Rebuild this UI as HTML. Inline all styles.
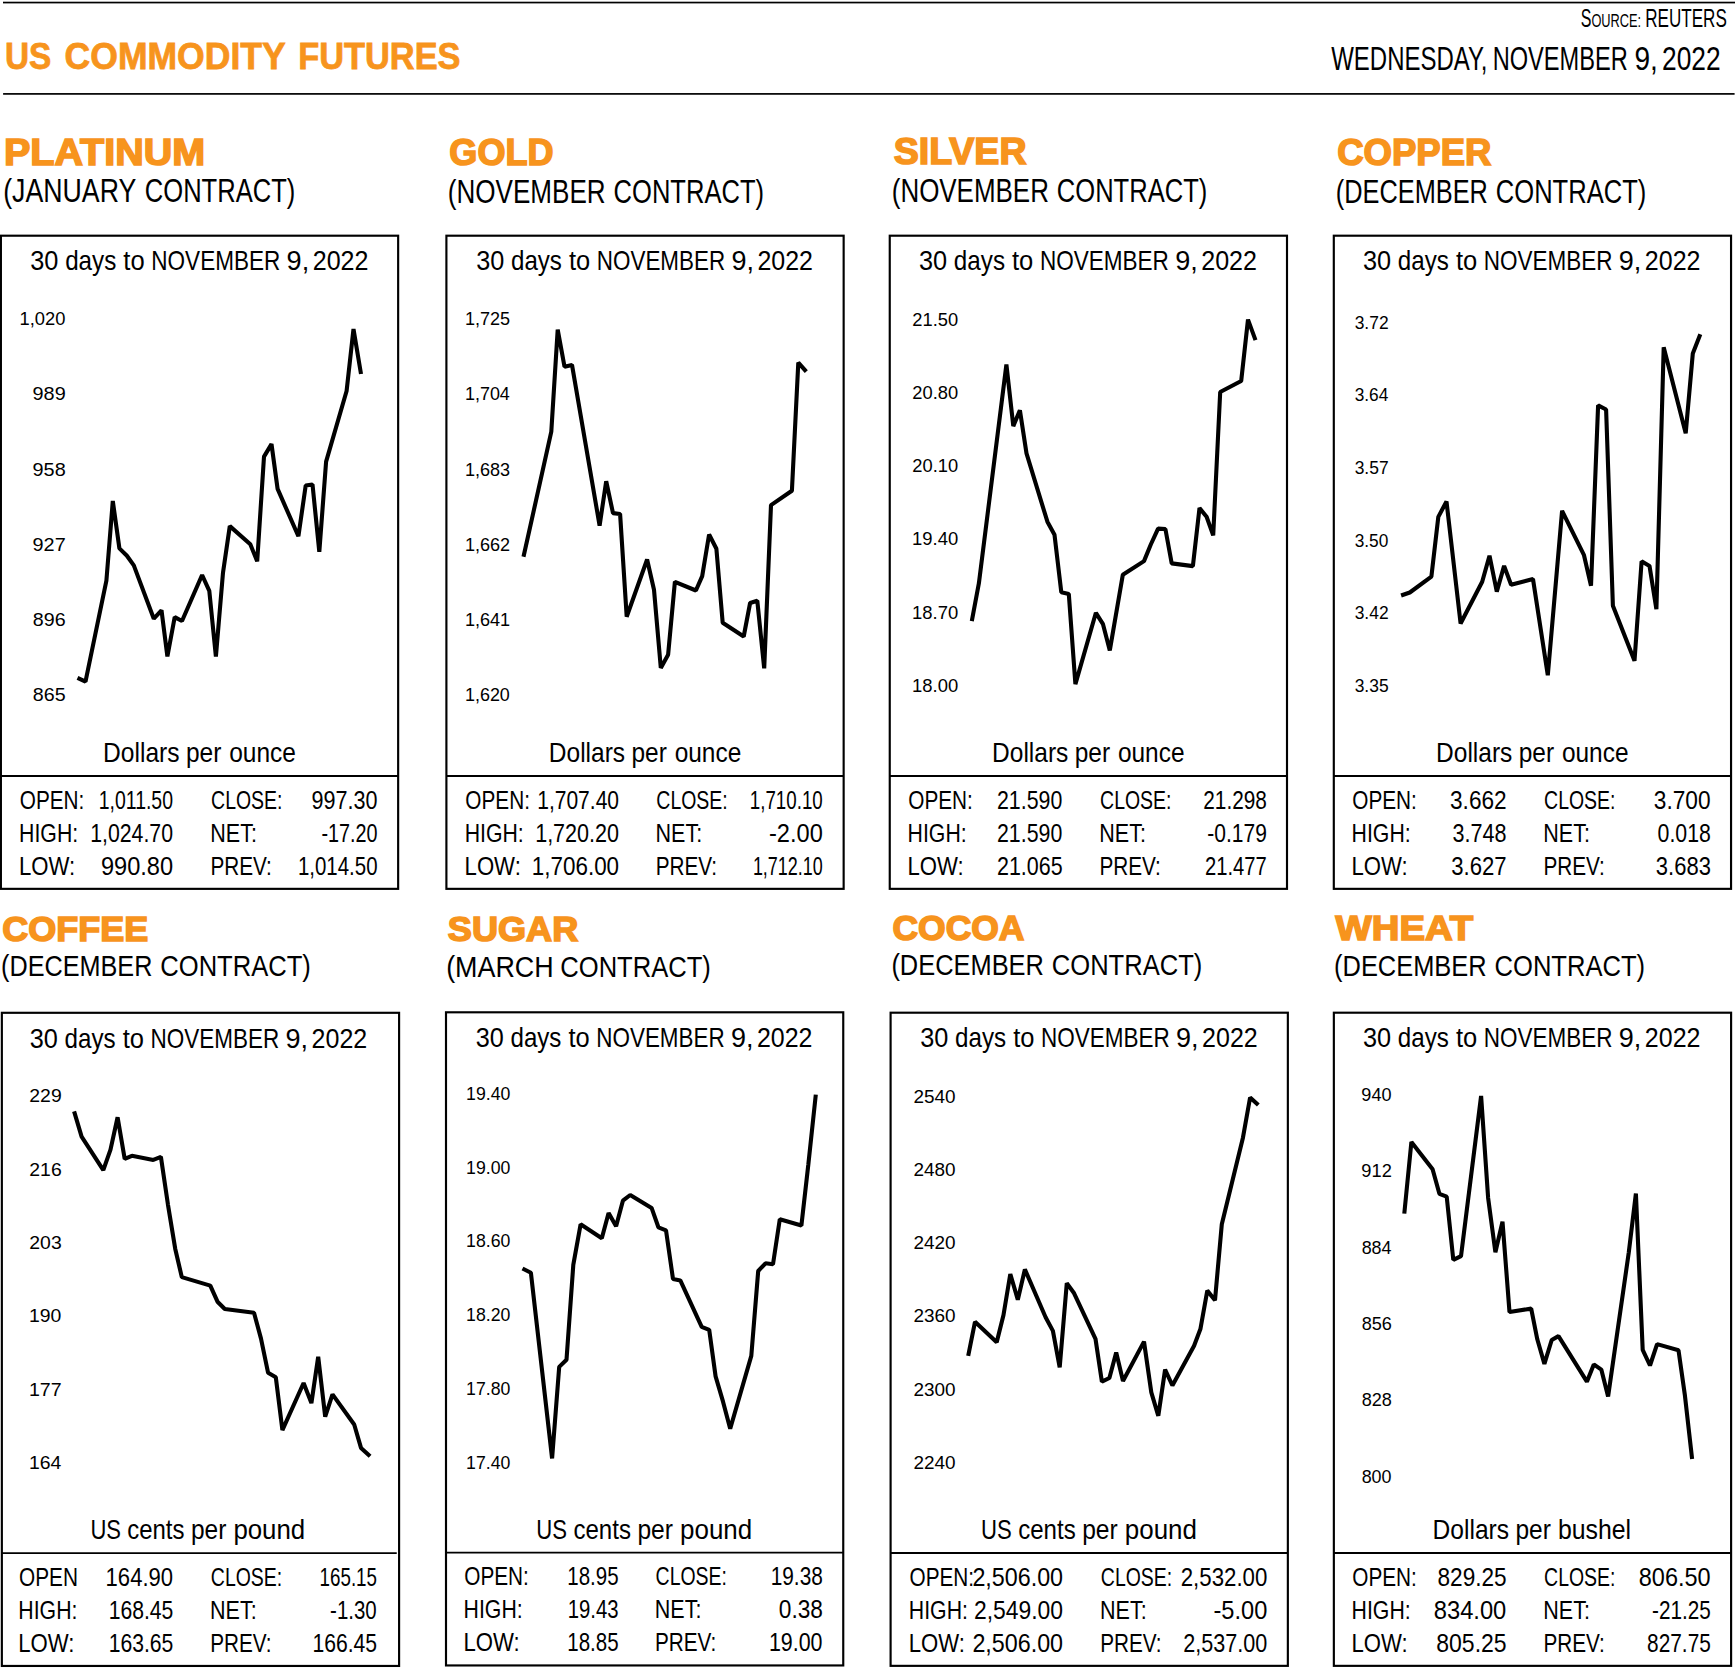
<!DOCTYPE html>
<html lang="en"><head><meta charset="utf-8"><title>US Commodity Futures</title>
<style>
html,body{margin:0;padding:0;background:#fff}
svg{display:block}
text{font-family:"Liberation Sans",sans-serif}
</style></head><body>
<svg width="1736" height="1669" viewBox="0 0 1736 1669">
<rect width="1736" height="1669" fill="#fff"/>
<rect x="3" y="1.7" width="1732" height="1.7" fill="#000"/>
<rect x="3.1" y="93.05" width="1731.5" height="1.7" fill="#000"/>
<text y="68.9" font-weight="bold" fill="#F7941D" stroke="#F7941D" stroke-width="0.8" stroke-linejoin="miter"><tspan x="4.94" font-size="37.06" textLength="46.34" lengthAdjust="spacingAndGlyphs">US</tspan> <tspan x="64.59" font-size="37.06" textLength="221.14" lengthAdjust="spacingAndGlyphs">COMMODITY</tspan> <tspan x="298.25" font-size="37.06" textLength="162.25" lengthAdjust="spacingAndGlyphs">FUTURES</tspan></text>
<text y="26.6"><tspan x="1580.70" font-size="25.7" textLength="10.67" lengthAdjust="spacingAndGlyphs">S</tspan><tspan x="1591.40" font-size="18.9" textLength="49.76" lengthAdjust="spacingAndGlyphs">OURCE:</tspan> <tspan x="1645.16" font-size="25.7" textLength="81.65" lengthAdjust="spacingAndGlyphs">REUTERS</tspan></text>
<text y="69.9"><tspan x="1331.20" font-size="33.1" textLength="156.34" lengthAdjust="spacingAndGlyphs">WEDNESDAY,</tspan> <tspan x="1492.65" font-size="33.1" textLength="135.16" lengthAdjust="spacingAndGlyphs">NOVEMBER</tspan> <tspan x="1634.43" font-size="33.1" textLength="23.41" lengthAdjust="spacingAndGlyphs">9,</tspan> <tspan x="1662.02" font-size="33.1" textLength="58.55" lengthAdjust="spacingAndGlyphs">2022</tspan></text>
<text x="4.03" y="164.9" font-size="37.35" textLength="201.22" lengthAdjust="spacingAndGlyphs" font-weight="bold" fill="#F7941D" stroke="#F7941D" stroke-width="1.6" stroke-linejoin="miter">PLATINUM</text>
<text y="202.4"><tspan x="3.15" font-size="32.3" textLength="133.14" lengthAdjust="spacingAndGlyphs">(JANUARY</tspan> <tspan x="144.80" font-size="32.3" textLength="150.52" lengthAdjust="spacingAndGlyphs">CONTRACT)</tspan></text>
<rect x="0.9" y="235.7" width="397.25" height="653.15" fill="none" stroke="#000" stroke-width="2.15"/>
<line x1="0.9" y1="776.0" x2="398.15" y2="776.0" stroke="#000" stroke-width="1.85"/>
<text y="270.4"><tspan x="30.21" font-size="27.5" textLength="28.19" lengthAdjust="spacingAndGlyphs">30</tspan> <tspan x="65.14" font-size="27.5" textLength="51.17" lengthAdjust="spacingAndGlyphs">days</tspan> <tspan x="123.35" font-size="27.5" textLength="21.33" lengthAdjust="spacingAndGlyphs">to</tspan> <tspan x="151.32" font-size="27.5" textLength="128.98" lengthAdjust="spacingAndGlyphs">NOVEMBER</tspan> <tspan x="286.59" font-size="27.5" textLength="22.57" lengthAdjust="spacingAndGlyphs">9,</tspan> <tspan x="312.69" font-size="27.5" textLength="55.82" lengthAdjust="spacingAndGlyphs">2022</tspan></text>
<text x="19.45" y="325.1" font-size="18.6" textLength="45.90" lengthAdjust="spacingAndGlyphs">1,020</text>
<text x="32.57" y="400.3" font-size="18.6" textLength="33.14" lengthAdjust="spacingAndGlyphs">989</text>
<text x="32.57" y="475.8" font-size="18.6" textLength="33.14" lengthAdjust="spacingAndGlyphs">958</text>
<text x="32.57" y="551.3" font-size="18.6" textLength="33.14" lengthAdjust="spacingAndGlyphs">927</text>
<text x="32.89" y="626.3" font-size="18.6" textLength="32.81" lengthAdjust="spacingAndGlyphs">896</text>
<text x="32.89" y="701.0" font-size="18.6" textLength="32.81" lengthAdjust="spacingAndGlyphs">865</text>
<polyline points="77.5,677.9 85.5,681.6 106.4,580.7 112.8,501.0 119.4,548.4 126.9,555.7 133.8,565.4 153.8,618.7 161.5,610.3 167.4,656.5 174.7,617.1 182.0,621.0 202.1,575.0 209.3,590.9 215.9,656.5 223.0,572.7 229.8,526.1 250.3,544.3 257.2,561.3 264.0,456.6 271.5,444.1 277.6,488.9 298.4,536.3 305.7,485.5 312.5,484.4 319.3,551.8 326.1,461.6 346.6,391.0 353.5,329.1 361.0,374.0" fill="none" stroke="#000" stroke-width="4.1" stroke-linejoin="bevel"/>
<text y="761.9"><tspan x="103.08" font-size="28.5" textLength="76.44" lengthAdjust="spacingAndGlyphs">Dollars</tspan> <tspan x="185.97" font-size="28.5" textLength="35.40" lengthAdjust="spacingAndGlyphs">per</tspan> <tspan x="229.23" font-size="28.5" textLength="66.76" lengthAdjust="spacingAndGlyphs">ounce</tspan></text>
<text x="19.78" y="808.8" font-size="26.2" textLength="64.60" lengthAdjust="spacingAndGlyphs">OPEN:</text>
<text x="98.79" y="808.8" font-size="26.2" textLength="74.20" lengthAdjust="spacingAndGlyphs">1,011.50</text>
<text x="211.09" y="808.8" font-size="26.2" textLength="71.42" lengthAdjust="spacingAndGlyphs">CLOSE:</text>
<text x="311.49" y="808.8" font-size="26.2" textLength="66.05" lengthAdjust="spacingAndGlyphs">997.30</text>
<text x="19.09" y="841.6" font-size="26.2" textLength="59.08" lengthAdjust="spacingAndGlyphs">HIGH:</text>
<text x="90.17" y="841.6" font-size="26.2" textLength="82.86" lengthAdjust="spacingAndGlyphs">1,024.70</text>
<text x="210.32" y="841.6" font-size="26.2" textLength="46.62" lengthAdjust="spacingAndGlyphs">NET:</text>
<text x="321.38" y="841.6" font-size="26.2" textLength="56.11" lengthAdjust="spacingAndGlyphs">-17.20</text>
<text x="19.02" y="874.6" font-size="26.2" textLength="56.23" lengthAdjust="spacingAndGlyphs">LOW:</text>
<text x="100.89" y="874.6" font-size="26.2" textLength="72.19" lengthAdjust="spacingAndGlyphs">990.80</text>
<text x="210.38" y="874.6" font-size="26.2" textLength="61.50" lengthAdjust="spacingAndGlyphs">PREV:</text>
<text x="297.97" y="874.6" font-size="26.2" textLength="79.54" lengthAdjust="spacingAndGlyphs">1,014.50</text>
<text x="449.37" y="164.7" font-size="37.35" textLength="104.18" lengthAdjust="spacingAndGlyphs" font-weight="bold" fill="#F7941D" stroke="#F7941D" stroke-width="1.6" stroke-linejoin="miter">GOLD</text>
<text y="202.8"><tspan x="447.78" font-size="32.3" textLength="157.88" lengthAdjust="spacingAndGlyphs">(NOVEMBER</tspan> <tspan x="613.55" font-size="32.3" textLength="150.52" lengthAdjust="spacingAndGlyphs">CONTRACT)</tspan></text>
<rect x="446.4" y="235.7" width="397.25" height="653.15" fill="none" stroke="#000" stroke-width="2.15"/>
<line x1="446.4" y1="776.0" x2="843.65" y2="776.0" stroke="#000" stroke-width="1.85"/>
<text y="270.4"><tspan x="476.21" font-size="27.5" textLength="28.07" lengthAdjust="spacingAndGlyphs">30</tspan> <tspan x="510.99" font-size="27.5" textLength="50.95" lengthAdjust="spacingAndGlyphs">days</tspan> <tspan x="568.94" font-size="27.5" textLength="21.23" lengthAdjust="spacingAndGlyphs">to</tspan> <tspan x="596.78" font-size="27.5" textLength="128.41" lengthAdjust="spacingAndGlyphs">NOVEMBER</tspan> <tspan x="731.45" font-size="27.5" textLength="22.48" lengthAdjust="spacingAndGlyphs">9,</tspan> <tspan x="757.44" font-size="27.5" textLength="55.57" lengthAdjust="spacingAndGlyphs">2022</tspan></text>
<text x="464.97" y="325.1" font-size="18.6" textLength="45.16" lengthAdjust="spacingAndGlyphs">1,725</text>
<text x="464.98" y="400.3" font-size="18.6" textLength="44.87" lengthAdjust="spacingAndGlyphs">1,704</text>
<text x="464.97" y="475.8" font-size="18.6" textLength="45.16" lengthAdjust="spacingAndGlyphs">1,683</text>
<text x="464.97" y="551.3" font-size="18.6" textLength="45.16" lengthAdjust="spacingAndGlyphs">1,662</text>
<text x="464.97" y="626.3" font-size="18.6" textLength="45.16" lengthAdjust="spacingAndGlyphs">1,641</text>
<text x="464.98" y="701.0" font-size="18.6" textLength="44.87" lengthAdjust="spacingAndGlyphs">1,620</text>
<polyline points="523.5,556.8 551.3,431.6 557.7,329.6 564.5,366.7 572.0,364.9 599.6,525.6 606.2,481.2 613.0,513.1 620.1,514.0 626.7,616.7 647.1,559.5 654.0,589.8 660.8,667.9 668.1,654.7 674.9,581.8 695.9,590.5 702.2,576.1 709.1,534.5 716.4,548.8 722.7,622.8 743.7,636.5 750.1,603.0 757.3,600.7 764.2,668.4 771.0,505.1 791.9,490.8 798.3,362.6 806.3,371.7" fill="none" stroke="#000" stroke-width="4.1" stroke-linejoin="bevel"/>
<text y="761.9"><tspan x="548.84" font-size="28.5" textLength="76.24" lengthAdjust="spacingAndGlyphs">Dollars</tspan> <tspan x="631.50" font-size="28.5" textLength="35.31" lengthAdjust="spacingAndGlyphs">per</tspan> <tspan x="674.66" font-size="28.5" textLength="66.58" lengthAdjust="spacingAndGlyphs">ounce</tspan></text>
<text x="465.33" y="808.8" font-size="26.2" textLength="64.60" lengthAdjust="spacingAndGlyphs">OPEN:</text>
<text x="537.19" y="808.8" font-size="26.2" textLength="81.84" lengthAdjust="spacingAndGlyphs">1,707.40</text>
<text x="656.34" y="808.8" font-size="26.2" textLength="71.42" lengthAdjust="spacingAndGlyphs">CLOSE:</text>
<text x="749.83" y="808.8" font-size="26.2" textLength="72.89" lengthAdjust="spacingAndGlyphs">1,710.10</text>
<text x="464.64" y="841.6" font-size="26.2" textLength="59.08" lengthAdjust="spacingAndGlyphs">HIGH:</text>
<text x="535.15" y="841.6" font-size="26.2" textLength="83.88" lengthAdjust="spacingAndGlyphs">1,720.20</text>
<text x="655.57" y="841.6" font-size="26.2" textLength="46.62" lengthAdjust="spacingAndGlyphs">NET:</text>
<text x="769.01" y="841.6" font-size="26.2" textLength="53.83" lengthAdjust="spacingAndGlyphs">-2.00</text>
<text x="464.57" y="874.6" font-size="26.2" textLength="56.23" lengthAdjust="spacingAndGlyphs">LOW:</text>
<text x="531.85" y="874.6" font-size="26.2" textLength="87.21" lengthAdjust="spacingAndGlyphs">1,706.00</text>
<text x="655.63" y="874.6" font-size="26.2" textLength="61.50" lengthAdjust="spacingAndGlyphs">PREV:</text>
<text x="752.88" y="874.6" font-size="26.2" textLength="69.82" lengthAdjust="spacingAndGlyphs">1,712.10</text>
<text x="893.71" y="164.0" font-size="37.35" textLength="132.80" lengthAdjust="spacingAndGlyphs" font-weight="bold" fill="#F7941D" stroke="#F7941D" stroke-width="1.6" stroke-linejoin="miter">SILVER</text>
<text y="201.5"><tspan x="891.78" font-size="32.3" textLength="157.12" lengthAdjust="spacingAndGlyphs">(NOVEMBER</tspan> <tspan x="1056.80" font-size="32.3" textLength="150.52" lengthAdjust="spacingAndGlyphs">CONTRACT)</tspan></text>
<rect x="889.75" y="235.7" width="397.25" height="653.15" fill="none" stroke="#000" stroke-width="2.15"/>
<line x1="889.75" y1="776.0" x2="1287.0" y2="776.0" stroke="#000" stroke-width="1.85"/>
<text y="270.4"><tspan x="918.96" font-size="27.5" textLength="28.17" lengthAdjust="spacingAndGlyphs">30</tspan> <tspan x="953.86" font-size="27.5" textLength="51.14" lengthAdjust="spacingAndGlyphs">days</tspan> <tspan x="1012.03" font-size="27.5" textLength="21.31" lengthAdjust="spacingAndGlyphs">to</tspan> <tspan x="1039.98" font-size="27.5" textLength="128.89" lengthAdjust="spacingAndGlyphs">NOVEMBER</tspan> <tspan x="1175.15" font-size="27.5" textLength="22.56" lengthAdjust="spacingAndGlyphs">9,</tspan> <tspan x="1201.23" font-size="27.5" textLength="55.78" lengthAdjust="spacingAndGlyphs">2022</tspan></text>
<text x="912.34" y="326.1" font-size="18.6" textLength="45.81" lengthAdjust="spacingAndGlyphs">21.50</text>
<text x="912.34" y="399.0" font-size="18.6" textLength="45.81" lengthAdjust="spacingAndGlyphs">20.80</text>
<text x="912.34" y="472.0" font-size="18.6" textLength="45.81" lengthAdjust="spacingAndGlyphs">20.10</text>
<text x="912.05" y="545.0" font-size="18.6" textLength="46.11" lengthAdjust="spacingAndGlyphs">19.40</text>
<text x="912.05" y="618.7" font-size="18.6" textLength="46.11" lengthAdjust="spacingAndGlyphs">18.70</text>
<text x="912.05" y="692.2" font-size="18.6" textLength="46.11" lengthAdjust="spacingAndGlyphs">18.00</text>
<polyline points="971.8,621.2 978.9,583.2 1006.4,364.6 1013.3,426.1 1019.9,410.2 1026.5,453.4 1047.4,521.7 1054.5,534.7 1061.3,592.3 1068.8,593.9 1075.4,684.1 1095.9,612.8 1103.0,624.2 1109.8,650.4 1122.8,574.8 1144.0,561.1 1150.8,544.5 1158.1,528.6 1165.4,529.0 1171.7,563.4 1192.9,566.1 1199.5,508.1 1206.6,516.7 1213.2,535.4 1220.2,392.0 1241.2,381.0 1248.0,319.6 1255.5,340.1" fill="none" stroke="#000" stroke-width="4.1" stroke-linejoin="bevel"/>
<text y="761.9"><tspan x="992.09" font-size="28.5" textLength="76.24" lengthAdjust="spacingAndGlyphs">Dollars</tspan> <tspan x="1074.75" font-size="28.5" textLength="35.31" lengthAdjust="spacingAndGlyphs">per</tspan> <tspan x="1117.91" font-size="28.5" textLength="66.58" lengthAdjust="spacingAndGlyphs">ounce</tspan></text>
<text x="908.28" y="808.8" font-size="26.2" textLength="64.60" lengthAdjust="spacingAndGlyphs">OPEN:</text>
<text x="997.00" y="808.8" font-size="26.2" textLength="65.28" lengthAdjust="spacingAndGlyphs">21.590</text>
<text x="1100.09" y="808.8" font-size="26.2" textLength="71.42" lengthAdjust="spacingAndGlyphs">CLOSE:</text>
<text x="1203.28" y="808.8" font-size="26.2" textLength="63.57" lengthAdjust="spacingAndGlyphs">21.298</text>
<text x="907.59" y="841.6" font-size="26.2" textLength="59.08" lengthAdjust="spacingAndGlyphs">HIGH:</text>
<text x="997.00" y="841.6" font-size="26.2" textLength="65.28" lengthAdjust="spacingAndGlyphs">21.590</text>
<text x="1099.32" y="841.6" font-size="26.2" textLength="46.62" lengthAdjust="spacingAndGlyphs">NET:</text>
<text x="1207.34" y="841.6" font-size="26.2" textLength="59.51" lengthAdjust="spacingAndGlyphs">-0.179</text>
<text x="907.52" y="874.6" font-size="26.2" textLength="56.23" lengthAdjust="spacingAndGlyphs">LOW:</text>
<text x="996.99" y="874.6" font-size="26.2" textLength="65.63" lengthAdjust="spacingAndGlyphs">21.065</text>
<text x="1099.38" y="874.6" font-size="26.2" textLength="61.50" lengthAdjust="spacingAndGlyphs">PREV:</text>
<text x="1205.05" y="874.6" font-size="26.2" textLength="61.76" lengthAdjust="spacingAndGlyphs">21.477</text>
<text x="1337.16" y="164.9" font-size="37.35" textLength="154.24" lengthAdjust="spacingAndGlyphs" font-weight="bold" fill="#F7941D" stroke="#F7941D" stroke-width="1.6" stroke-linejoin="miter">COPPER</text>
<text y="202.9"><tspan x="1335.81" font-size="32.3" textLength="152.07" lengthAdjust="spacingAndGlyphs">(DECEMBER</tspan> <tspan x="1495.80" font-size="32.3" textLength="150.52" lengthAdjust="spacingAndGlyphs">CONTRACT)</tspan></text>
<rect x="1333.8" y="235.7" width="397.25" height="653.15" fill="none" stroke="#000" stroke-width="2.15"/>
<line x1="1333.8" y1="776.0" x2="1731.05" y2="776.0" stroke="#000" stroke-width="1.85"/>
<text y="270.4"><tspan x="1362.96" font-size="27.5" textLength="28.13" lengthAdjust="spacingAndGlyphs">30</tspan> <tspan x="1397.81" font-size="27.5" textLength="51.06" lengthAdjust="spacingAndGlyphs">days</tspan> <tspan x="1455.89" font-size="27.5" textLength="21.27" lengthAdjust="spacingAndGlyphs">to</tspan> <tspan x="1483.79" font-size="27.5" textLength="128.70" lengthAdjust="spacingAndGlyphs">NOVEMBER</tspan> <tspan x="1618.76" font-size="27.5" textLength="22.52" lengthAdjust="spacingAndGlyphs">9,</tspan> <tspan x="1644.82" font-size="27.5" textLength="55.70" lengthAdjust="spacingAndGlyphs">2022</tspan></text>
<text x="1354.65" y="329.3" font-size="18.6" textLength="33.95" lengthAdjust="spacingAndGlyphs">3.72</text>
<text x="1354.66" y="401.1" font-size="18.6" textLength="33.67" lengthAdjust="spacingAndGlyphs">3.64</text>
<text x="1354.65" y="474.0" font-size="18.6" textLength="33.95" lengthAdjust="spacingAndGlyphs">3.57</text>
<text x="1354.66" y="546.5" font-size="18.6" textLength="33.67" lengthAdjust="spacingAndGlyphs">3.50</text>
<text x="1354.65" y="619.2" font-size="18.6" textLength="33.95" lengthAdjust="spacingAndGlyphs">3.42</text>
<text x="1354.65" y="692.2" font-size="18.6" textLength="33.95" lengthAdjust="spacingAndGlyphs">3.35</text>
<polyline points="1401.1,595.5 1409.8,592.5 1431.4,576.6 1438.3,516.9 1446.5,501.5 1460.6,623.5 1482.2,581.8 1489.5,555.7 1496.8,591.6 1504.1,565.9 1511.1,584.8 1533.0,579.1 1547.8,675.2 1562.1,510.8 1584.0,555.2 1591.0,585.7 1598.1,405.4 1606.1,409.5 1612.9,605.7 1634.5,660.8 1641.6,561.3 1649.5,565.9 1656.4,609.2 1663.7,347.3 1685.7,433.2 1692.8,353.5 1700.3,334.3" fill="none" stroke="#000" stroke-width="4.1" stroke-linejoin="bevel"/>
<text y="761.9"><tspan x="1436.09" font-size="28.5" textLength="76.24" lengthAdjust="spacingAndGlyphs">Dollars</tspan> <tspan x="1518.75" font-size="28.5" textLength="35.31" lengthAdjust="spacingAndGlyphs">per</tspan> <tspan x="1561.91" font-size="28.5" textLength="66.58" lengthAdjust="spacingAndGlyphs">ounce</tspan></text>
<text x="1352.28" y="808.8" font-size="26.2" textLength="64.60" lengthAdjust="spacingAndGlyphs">OPEN:</text>
<text x="1450.04" y="808.8" font-size="26.2" textLength="56.62" lengthAdjust="spacingAndGlyphs">3.662</text>
<text x="1544.09" y="808.8" font-size="26.2" textLength="71.42" lengthAdjust="spacingAndGlyphs">CLOSE:</text>
<text x="1653.79" y="808.8" font-size="26.2" textLength="56.77" lengthAdjust="spacingAndGlyphs">3.700</text>
<text x="1351.59" y="841.6" font-size="26.2" textLength="59.08" lengthAdjust="spacingAndGlyphs">HIGH:</text>
<text x="1452.58" y="841.6" font-size="26.2" textLength="54.05" lengthAdjust="spacingAndGlyphs">3.748</text>
<text x="1543.32" y="841.6" font-size="26.2" textLength="46.62" lengthAdjust="spacingAndGlyphs">NET:</text>
<text x="1657.58" y="841.6" font-size="26.2" textLength="53.28" lengthAdjust="spacingAndGlyphs">0.018</text>
<text x="1351.52" y="874.6" font-size="26.2" textLength="56.23" lengthAdjust="spacingAndGlyphs">LOW:</text>
<text x="1451.31" y="874.6" font-size="26.2" textLength="55.34" lengthAdjust="spacingAndGlyphs">3.627</text>
<text x="1543.38" y="874.6" font-size="26.2" textLength="61.50" lengthAdjust="spacingAndGlyphs">PREV:</text>
<text x="1655.81" y="874.6" font-size="26.2" textLength="55.08" lengthAdjust="spacingAndGlyphs">3.683</text>
<text x="2.28" y="940.9" font-size="34.74" textLength="145.97" lengthAdjust="spacingAndGlyphs" font-weight="bold" fill="#F7941D" stroke="#F7941D" stroke-width="1.6" stroke-linejoin="miter">COFFEE</text>
<text y="975.8"><tspan x="1.12" font-size="29.9" textLength="151.26" lengthAdjust="spacingAndGlyphs">(DECEMBER</tspan> <tspan x="160.30" font-size="29.9" textLength="150.52" lengthAdjust="spacingAndGlyphs">CONTRACT)</tspan></text>
<rect x="1.85" y="1012.8" width="397.25" height="653.15" fill="none" stroke="#000" stroke-width="2.15"/>
<line x1="1.85" y1="1553.1" x2="396.75" y2="1553.1" stroke="#000" stroke-width="1.85"/>
<text y="1047.5"><tspan x="29.71" font-size="27.5" textLength="28.13" lengthAdjust="spacingAndGlyphs">30</tspan> <tspan x="64.56" font-size="27.5" textLength="51.06" lengthAdjust="spacingAndGlyphs">days</tspan> <tspan x="122.64" font-size="27.5" textLength="21.27" lengthAdjust="spacingAndGlyphs">to</tspan> <tspan x="150.54" font-size="27.5" textLength="128.70" lengthAdjust="spacingAndGlyphs">NOVEMBER</tspan> <tspan x="285.51" font-size="27.5" textLength="22.52" lengthAdjust="spacingAndGlyphs">9,</tspan> <tspan x="311.57" font-size="27.5" textLength="55.70" lengthAdjust="spacingAndGlyphs">2022</tspan></text>
<text x="29.29" y="1101.8" font-size="18.6" textLength="32.40" lengthAdjust="spacingAndGlyphs">229</text>
<text x="29.29" y="1176.1" font-size="18.6" textLength="32.40" lengthAdjust="spacingAndGlyphs">216</text>
<text x="29.29" y="1249.0" font-size="18.6" textLength="32.40" lengthAdjust="spacingAndGlyphs">203</text>
<text x="28.99" y="1322.0" font-size="18.6" textLength="32.40" lengthAdjust="spacingAndGlyphs">190</text>
<text x="28.97" y="1396.2" font-size="18.6" textLength="32.72" lengthAdjust="spacingAndGlyphs">177</text>
<text x="28.99" y="1468.7" font-size="18.6" textLength="32.40" lengthAdjust="spacingAndGlyphs">164</text>
<polyline points="74.1,1111.4 81.6,1136.7 103.3,1170.1 110.5,1149.6 117.6,1117.3 124.7,1158.8 131.9,1155.8 153.3,1159.9 160.9,1156.9 167.9,1204.3 175.2,1248.7 181.8,1277.1 210.3,1285.6 217.5,1301.7 224.8,1309.0 254.0,1312.7 261.0,1338.6 268.1,1372.8 275.8,1377.3 282.4,1430.1 303.6,1383.0 311.4,1403.1 318.2,1356.8 325.2,1416.7 332.5,1394.4 354.2,1424.5 361.0,1447.9 370.1,1456.3" fill="none" stroke="#000" stroke-width="4.1" stroke-linejoin="bevel"/>
<text y="1539.0"><tspan x="90.38" font-size="28.5" textLength="30.55" lengthAdjust="spacingAndGlyphs">US</tspan> <tspan x="127.25" font-size="28.5" textLength="57.25" lengthAdjust="spacingAndGlyphs">cents</tspan> <tspan x="190.97" font-size="28.5" textLength="35.40" lengthAdjust="spacingAndGlyphs">per</tspan> <tspan x="233.39" font-size="28.5" textLength="71.81" lengthAdjust="spacingAndGlyphs">pound</tspan></text>
<text x="19.03" y="1585.9" font-size="26.2" textLength="58.92" lengthAdjust="spacingAndGlyphs">OPEN</text>
<text x="105.62" y="1585.9" font-size="26.2" textLength="67.43" lengthAdjust="spacingAndGlyphs">164.90</text>
<text x="210.84" y="1585.9" font-size="26.2" textLength="71.42" lengthAdjust="spacingAndGlyphs">CLOSE:</text>
<text x="319.58" y="1585.9" font-size="26.2" textLength="57.43" lengthAdjust="spacingAndGlyphs">165.15</text>
<text x="18.34" y="1618.7" font-size="26.2" textLength="59.08" lengthAdjust="spacingAndGlyphs">HIGH:</text>
<text x="108.68" y="1618.7" font-size="26.2" textLength="64.68" lengthAdjust="spacingAndGlyphs">168.45</text>
<text x="210.07" y="1618.7" font-size="26.2" textLength="46.62" lengthAdjust="spacingAndGlyphs">NET:</text>
<text x="330.11" y="1618.7" font-size="26.2" textLength="46.65" lengthAdjust="spacingAndGlyphs">-1.30</text>
<text x="18.27" y="1651.7" font-size="26.2" textLength="56.23" lengthAdjust="spacingAndGlyphs">LOW:</text>
<text x="108.68" y="1651.7" font-size="26.2" textLength="64.68" lengthAdjust="spacingAndGlyphs">163.65</text>
<text x="210.13" y="1651.7" font-size="26.2" textLength="61.50" lengthAdjust="spacingAndGlyphs">PREV:</text>
<text x="312.43" y="1651.7" font-size="26.2" textLength="64.68" lengthAdjust="spacingAndGlyphs">166.45</text>
<text x="447.84" y="940.9" font-size="34.74" textLength="130.45" lengthAdjust="spacingAndGlyphs" font-weight="bold" fill="#F7941D" stroke="#F7941D" stroke-width="1.6" stroke-linejoin="miter">SUGAR</text>
<text y="976.5"><tspan x="446.14" font-size="29.9" textLength="107.55" lengthAdjust="spacingAndGlyphs">(MARCH</tspan> <tspan x="560.30" font-size="29.9" textLength="150.52" lengthAdjust="spacingAndGlyphs">CONTRACT)</tspan></text>
<rect x="446.0" y="1012.3" width="397.25" height="653.15" fill="none" stroke="#000" stroke-width="2.15"/>
<line x1="446.0" y1="1552.6" x2="843.25" y2="1552.6" stroke="#000" stroke-width="1.85"/>
<text y="1047.0"><tspan x="475.71" font-size="27.5" textLength="28.07" lengthAdjust="spacingAndGlyphs">30</tspan> <tspan x="510.49" font-size="27.5" textLength="50.95" lengthAdjust="spacingAndGlyphs">days</tspan> <tspan x="568.44" font-size="27.5" textLength="21.23" lengthAdjust="spacingAndGlyphs">to</tspan> <tspan x="596.28" font-size="27.5" textLength="128.41" lengthAdjust="spacingAndGlyphs">NOVEMBER</tspan> <tspan x="730.95" font-size="27.5" textLength="22.48" lengthAdjust="spacingAndGlyphs">9,</tspan> <tspan x="756.94" font-size="27.5" textLength="55.57" lengthAdjust="spacingAndGlyphs">2022</tspan></text>
<text x="466.09" y="1100.1" font-size="18.6" textLength="44.25" lengthAdjust="spacingAndGlyphs">19.40</text>
<text x="466.09" y="1173.5" font-size="18.6" textLength="44.25" lengthAdjust="spacingAndGlyphs">19.00</text>
<text x="466.09" y="1246.5" font-size="18.6" textLength="44.25" lengthAdjust="spacingAndGlyphs">18.60</text>
<text x="466.09" y="1320.7" font-size="18.6" textLength="44.25" lengthAdjust="spacingAndGlyphs">18.20</text>
<text x="466.09" y="1394.5" font-size="18.6" textLength="44.25" lengthAdjust="spacingAndGlyphs">17.80</text>
<text x="466.09" y="1468.5" font-size="18.6" textLength="44.25" lengthAdjust="spacingAndGlyphs">17.40</text>
<polyline points="522.5,1268.5 530.9,1272.8 552.1,1458.4 559.2,1366.9 566.5,1359.8 573.3,1264.9 580.6,1224.3 601.8,1238.2 608.6,1213.0 616.1,1226.2 622.9,1200.7 630.2,1195.0 651.6,1207.9 658.4,1227.3 666.0,1230.3 673.0,1279.0 680.3,1280.4 701.7,1326.8 709.2,1329.8 715.6,1376.4 723.1,1401.9 730.2,1428.8 751.3,1355.9 758.2,1271.0 765.5,1263.3 773.0,1264.2 779.8,1219.3 801.4,1225.5 808.3,1164.7 815.8,1094.6" fill="none" stroke="#000" stroke-width="4.1" stroke-linejoin="bevel"/>
<text y="1538.5"><tspan x="536.37" font-size="28.5" textLength="30.69" lengthAdjust="spacingAndGlyphs">US</tspan> <tspan x="573.42" font-size="28.5" textLength="57.51" lengthAdjust="spacingAndGlyphs">cents</tspan> <tspan x="637.44" font-size="28.5" textLength="35.57" lengthAdjust="spacingAndGlyphs">per</tspan> <tspan x="680.06" font-size="28.5" textLength="72.15" lengthAdjust="spacingAndGlyphs">pound</tspan></text>
<text x="464.28" y="1585.4" font-size="26.2" textLength="64.60" lengthAdjust="spacingAndGlyphs">OPEN:</text>
<text x="567.22" y="1585.4" font-size="26.2" textLength="51.36" lengthAdjust="spacingAndGlyphs">18.95</text>
<text x="655.59" y="1585.4" font-size="26.2" textLength="71.42" lengthAdjust="spacingAndGlyphs">CLOSE:</text>
<text x="770.70" y="1585.4" font-size="26.2" textLength="52.15" lengthAdjust="spacingAndGlyphs">19.38</text>
<text x="463.59" y="1618.2" font-size="26.2" textLength="59.08" lengthAdjust="spacingAndGlyphs">HIGH:</text>
<text x="567.73" y="1618.2" font-size="26.2" textLength="50.84" lengthAdjust="spacingAndGlyphs">19.43</text>
<text x="654.82" y="1618.2" font-size="26.2" textLength="46.62" lengthAdjust="spacingAndGlyphs">NET:</text>
<text x="778.79" y="1618.2" font-size="26.2" textLength="44.13" lengthAdjust="spacingAndGlyphs">0.38</text>
<text x="463.52" y="1651.2" font-size="26.2" textLength="56.23" lengthAdjust="spacingAndGlyphs">LOW:</text>
<text x="567.22" y="1651.2" font-size="26.2" textLength="51.36" lengthAdjust="spacingAndGlyphs">18.85</text>
<text x="654.88" y="1651.2" font-size="26.2" textLength="61.50" lengthAdjust="spacingAndGlyphs">PREV:</text>
<text x="768.91" y="1651.2" font-size="26.2" textLength="53.62" lengthAdjust="spacingAndGlyphs">19.00</text>
<text x="892.49" y="939.75" font-size="34.74" textLength="131.98" lengthAdjust="spacingAndGlyphs" font-weight="bold" fill="#F7941D" stroke="#F7941D" stroke-width="1.6" stroke-linejoin="miter">COCOA</text>
<text y="974.5"><tspan x="891.41" font-size="29.9" textLength="152.47" lengthAdjust="spacingAndGlyphs">(DECEMBER</tspan> <tspan x="1051.80" font-size="29.9" textLength="150.52" lengthAdjust="spacingAndGlyphs">CONTRACT)</tspan></text>
<rect x="890.6" y="1012.7" width="397.25" height="653.15" fill="none" stroke="#000" stroke-width="2.15"/>
<line x1="890.6" y1="1553.0" x2="1287.85" y2="1553.0" stroke="#000" stroke-width="1.85"/>
<text y="1047.4"><tspan x="920.21" font-size="27.5" textLength="28.13" lengthAdjust="spacingAndGlyphs">30</tspan> <tspan x="955.06" font-size="27.5" textLength="51.06" lengthAdjust="spacingAndGlyphs">days</tspan> <tspan x="1013.14" font-size="27.5" textLength="21.27" lengthAdjust="spacingAndGlyphs">to</tspan> <tspan x="1041.04" font-size="27.5" textLength="128.70" lengthAdjust="spacingAndGlyphs">NOVEMBER</tspan> <tspan x="1176.01" font-size="27.5" textLength="22.52" lengthAdjust="spacingAndGlyphs">9,</tspan> <tspan x="1202.07" font-size="27.5" textLength="55.70" lengthAdjust="spacingAndGlyphs">2022</tspan></text>
<text x="913.51" y="1102.6" font-size="18.6" textLength="42.16" lengthAdjust="spacingAndGlyphs">2540</text>
<text x="913.51" y="1176.1" font-size="18.6" textLength="42.16" lengthAdjust="spacingAndGlyphs">2480</text>
<text x="913.51" y="1249.0" font-size="18.6" textLength="42.16" lengthAdjust="spacingAndGlyphs">2420</text>
<text x="913.51" y="1322.0" font-size="18.6" textLength="42.16" lengthAdjust="spacingAndGlyphs">2360</text>
<text x="913.51" y="1396.2" font-size="18.6" textLength="42.16" lengthAdjust="spacingAndGlyphs">2300</text>
<text x="913.51" y="1468.7" font-size="18.6" textLength="42.16" lengthAdjust="spacingAndGlyphs">2240</text>
<polyline points="968.2,1355.9 975.0,1321.8 996.7,1342.3 1003.5,1315.0 1010.3,1274.0 1017.8,1299.7 1024.9,1269.4 1045.6,1317.2 1052.9,1330.9 1059.7,1367.3 1066.8,1283.1 1074.1,1293.3 1095.5,1338.9 1101.9,1381.7 1109.4,1378.0 1116.2,1352.5 1123.0,1381.0 1144.0,1341.6 1151.3,1392.4 1158.3,1415.8 1165.1,1369.6 1172.4,1385.5 1194.1,1345.7 1200.4,1329.1 1207.3,1290.6 1215.0,1300.2 1221.8,1224.3 1243.0,1137.4 1250.1,1097.5 1258.3,1105.0" fill="none" stroke="#000" stroke-width="4.1" stroke-linejoin="bevel"/>
<text y="1538.9"><tspan x="981.12" font-size="28.5" textLength="30.69" lengthAdjust="spacingAndGlyphs">US</tspan> <tspan x="1018.17" font-size="28.5" textLength="57.51" lengthAdjust="spacingAndGlyphs">cents</tspan> <tspan x="1082.19" font-size="28.5" textLength="35.57" lengthAdjust="spacingAndGlyphs">per</tspan> <tspan x="1124.81" font-size="28.5" textLength="72.15" lengthAdjust="spacingAndGlyphs">pound</tspan></text>
<text x="909.53" y="1585.8" font-size="26.2" textLength="64.60" lengthAdjust="spacingAndGlyphs">OPEN:</text>
<text x="972.41" y="1585.8" font-size="26.2" textLength="90.67" lengthAdjust="spacingAndGlyphs">2,506.00</text>
<text x="1100.84" y="1585.8" font-size="26.2" textLength="71.42" lengthAdjust="spacingAndGlyphs">CLOSE:</text>
<text x="1180.71" y="1585.8" font-size="26.2" textLength="86.60" lengthAdjust="spacingAndGlyphs">2,532.00</text>
<text x="908.84" y="1618.6" font-size="26.2" textLength="59.08" lengthAdjust="spacingAndGlyphs">HIGH:</text>
<text x="973.93" y="1618.6" font-size="26.2" textLength="89.14" lengthAdjust="spacingAndGlyphs">2,549.00</text>
<text x="1100.07" y="1618.6" font-size="26.2" textLength="46.62" lengthAdjust="spacingAndGlyphs">NET:</text>
<text x="1213.51" y="1618.6" font-size="26.2" textLength="53.83" lengthAdjust="spacingAndGlyphs">-5.00</text>
<text x="908.77" y="1651.6" font-size="26.2" textLength="56.23" lengthAdjust="spacingAndGlyphs">LOW:</text>
<text x="972.41" y="1651.6" font-size="26.2" textLength="90.67" lengthAdjust="spacingAndGlyphs">2,506.00</text>
<text x="1100.13" y="1651.6" font-size="26.2" textLength="61.50" lengthAdjust="spacingAndGlyphs">PREV:</text>
<text x="1183.24" y="1651.6" font-size="26.2" textLength="84.05" lengthAdjust="spacingAndGlyphs">2,537.00</text>
<text x="1335.50" y="939.9" font-size="34.74" textLength="137.76" lengthAdjust="spacingAndGlyphs" font-weight="bold" fill="#F7941D" stroke="#F7941D" stroke-width="1.6" stroke-linejoin="miter">WHEAT</text>
<text y="975.8"><tspan x="1334.06" font-size="29.9" textLength="152.57" lengthAdjust="spacingAndGlyphs">(DECEMBER</tspan> <tspan x="1494.55" font-size="29.9" textLength="150.52" lengthAdjust="spacingAndGlyphs">CONTRACT)</tspan></text>
<rect x="1333.85" y="1012.7" width="397.25" height="653.15" fill="none" stroke="#000" stroke-width="2.15"/>
<line x1="1333.85" y1="1553.0" x2="1731.1" y2="1553.0" stroke="#000" stroke-width="1.85"/>
<text y="1047.4"><tspan x="1362.96" font-size="27.5" textLength="28.13" lengthAdjust="spacingAndGlyphs">30</tspan> <tspan x="1397.81" font-size="27.5" textLength="51.06" lengthAdjust="spacingAndGlyphs">days</tspan> <tspan x="1455.89" font-size="27.5" textLength="21.27" lengthAdjust="spacingAndGlyphs">to</tspan> <tspan x="1483.79" font-size="27.5" textLength="128.70" lengthAdjust="spacingAndGlyphs">NOVEMBER</tspan> <tspan x="1618.76" font-size="27.5" textLength="22.52" lengthAdjust="spacingAndGlyphs">9,</tspan> <tspan x="1644.82" font-size="27.5" textLength="55.70" lengthAdjust="spacingAndGlyphs">2022</tspan></text>
<text x="1361.35" y="1100.6" font-size="18.6" textLength="30.20" lengthAdjust="spacingAndGlyphs">940</text>
<text x="1361.34" y="1177.3" font-size="18.6" textLength="30.50" lengthAdjust="spacingAndGlyphs">912</text>
<text x="1361.64" y="1253.6" font-size="18.6" textLength="29.91" lengthAdjust="spacingAndGlyphs">884</text>
<text x="1361.63" y="1329.6" font-size="18.6" textLength="30.20" lengthAdjust="spacingAndGlyphs">856</text>
<text x="1361.63" y="1405.8" font-size="18.6" textLength="30.20" lengthAdjust="spacingAndGlyphs">828</text>
<text x="1361.64" y="1482.6" font-size="18.6" textLength="29.91" lengthAdjust="spacingAndGlyphs">800</text>
<polyline points="1404.3,1213.6 1411.4,1141.9 1432.6,1169.2 1439.4,1193.8 1446.7,1196.6 1453.3,1259.9 1461.0,1256.2 1481.1,1095.9 1488.1,1197.7 1495.4,1252.3 1502.5,1221.6 1509.5,1312.0 1531.2,1308.6 1537.3,1339.3 1544.4,1363.9 1551.7,1340.0 1558.5,1336.1 1586.9,1381.7 1593.8,1364.4 1601.3,1369.6 1608.1,1396.5 1628.8,1252.3 1635.9,1193.6 1642.7,1349.8 1650.0,1365.5 1657.1,1344.1 1678.5,1350.2 1684.8,1394.6 1692.1,1459.1" fill="none" stroke="#000" stroke-width="4.1" stroke-linejoin="bevel"/>
<text y="1538.9"><tspan x="1432.58" font-size="28.5" textLength="76.44" lengthAdjust="spacingAndGlyphs">Dollars</tspan> <tspan x="1515.47" font-size="28.5" textLength="35.40" lengthAdjust="spacingAndGlyphs">per</tspan> <tspan x="1557.95" font-size="28.5" textLength="73.19" lengthAdjust="spacingAndGlyphs">bushel</tspan></text>
<text x="1352.28" y="1585.8" font-size="26.2" textLength="64.60" lengthAdjust="spacingAndGlyphs">OPEN:</text>
<text x="1437.54" y="1585.8" font-size="26.2" textLength="69.12" lengthAdjust="spacingAndGlyphs">829.25</text>
<text x="1544.09" y="1585.8" font-size="26.2" textLength="71.42" lengthAdjust="spacingAndGlyphs">CLOSE:</text>
<text x="1638.77" y="1585.8" font-size="26.2" textLength="71.82" lengthAdjust="spacingAndGlyphs">806.50</text>
<text x="1351.59" y="1618.6" font-size="26.2" textLength="59.08" lengthAdjust="spacingAndGlyphs">HIGH:</text>
<text x="1433.76" y="1618.6" font-size="26.2" textLength="72.58" lengthAdjust="spacingAndGlyphs">834.00</text>
<text x="1543.32" y="1618.6" font-size="26.2" textLength="46.62" lengthAdjust="spacingAndGlyphs">NET:</text>
<text x="1652.10" y="1618.6" font-size="26.2" textLength="58.74" lengthAdjust="spacingAndGlyphs">-21.25</text>
<text x="1351.52" y="1651.6" font-size="26.2" textLength="56.23" lengthAdjust="spacingAndGlyphs">LOW:</text>
<text x="1436.28" y="1651.6" font-size="26.2" textLength="70.40" lengthAdjust="spacingAndGlyphs">805.25</text>
<text x="1543.38" y="1651.6" font-size="26.2" textLength="61.50" lengthAdjust="spacingAndGlyphs">PREV:</text>
<text x="1647.10" y="1651.6" font-size="26.2" textLength="63.75" lengthAdjust="spacingAndGlyphs">827.75</text>
</svg>
</body></html>
